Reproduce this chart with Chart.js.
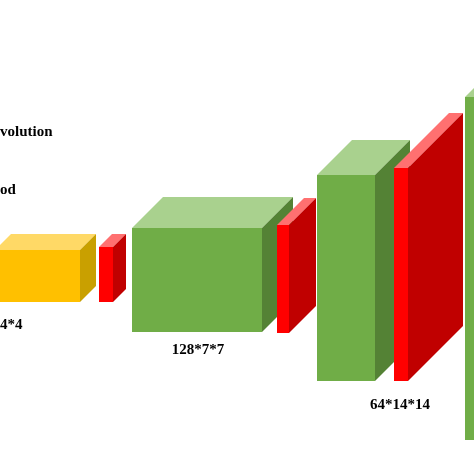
<!DOCTYPE html>
<html>
<head>
<meta charset="utf-8">
<script src="https://cdn.jsdelivr.net/npm/chart.js@4"></script>
<style>body{margin:0;background:#fff}</style>
</head>
<body>
<canvas id="net" width="474" height="474"></canvas>
<script>
// blocks: front face left, right, top, bottom, depth offset, colour set
const boxLeft   = [-5, 99, 132, 277, 317, 394, 465]
const boxRight  = [80, 113, 262, 289, 375, 408, 480]
const boxTop    = [250, 247, 228, 225, 175, 168, 97]
const boxBottom = [302, 302, 332, 333, 381, 381, 440]
const boxDepth  = [16, 13, 31, 27, 35, 55, 10]
const boxKind   = ['yellow', 'red', 'green', 'red', 'green', 'red', 'green']

const labels  = ['volution', 'od', '4*4', '128*7*7', '64*14*14']
const labelX  = [0, 0, 0, 198, 400]
const labelY  = [132, 190, 325, 350, 405]
const labelAlign = ['left', 'left', 'left', 'center', 'center']

const colours = {
  yellow: ['#FFC000', '#FFD966', '#C9A000'],
  red: ['#FF0000', '#FF7070', '#C00000'],
  green: ['#70AD47', '#A9D18E', '#548235']
}

const boxesPlugin = {
  id: 'boxes',
  afterDraw(chart) {
    const c = chart.ctx
    const xs = chart.scales.x, ys = chart.scales.y
    boxLeft.forEach((l, i) => {
      const x0 = xs.getPixelForValue(l), x1 = xs.getPixelForValue(boxRight[i])
      const y0 = ys.getPixelForValue(boxTop[i]), y1 = ys.getPixelForValue(boxBottom[i])
      const d = xs.getPixelForValue(boxDepth[i]) - xs.getPixelForValue(0)
      const [front, top, side] = colours[boxKind[i]]
      c.fillStyle = top
      c.beginPath()
      c.moveTo(x0, y0); c.lineTo(x0 + d, y0 - d); c.lineTo(x1 + d, y0 - d); c.lineTo(x1, y0)
      c.fill()
      c.fillStyle = side
      c.beginPath()
      c.moveTo(x1, y0); c.lineTo(x1 + d, y0 - d); c.lineTo(x1 + d, y1 - d); c.lineTo(x1, y1)
      c.fill()
      c.fillStyle = front
      c.fillRect(x0, y0, x1 - x0, y1 - y0)
    })
    c.fillStyle = '#000'
    c.font = 'bold 15px "Liberation Serif"'
    c.textBaseline = 'middle'
    labels.forEach((t, i) => {
      c.textAlign = labelAlign[i]
      c.fillText(t, xs.getPixelForValue(labelX[i]), ys.getPixelForValue(labelY[i]))
    })
  }
}

new Chart(document.getElementById('net'), {
  type: 'scatter',
  data: { datasets: [{ data: [] }] },
  options: {
    responsive: false,
    animation: false,
    layout: { padding: 0 },
    plugins: { legend: { display: false }, tooltip: { enabled: false } },
    scales: {
      x: { type: 'linear', min: 0, max: 474, display: false },
      y: { type: 'linear', min: 0, max: 474, reverse: true, display: false }
    }
  },
  plugins: [boxesPlugin]
})
</script>
</body>
</html>
